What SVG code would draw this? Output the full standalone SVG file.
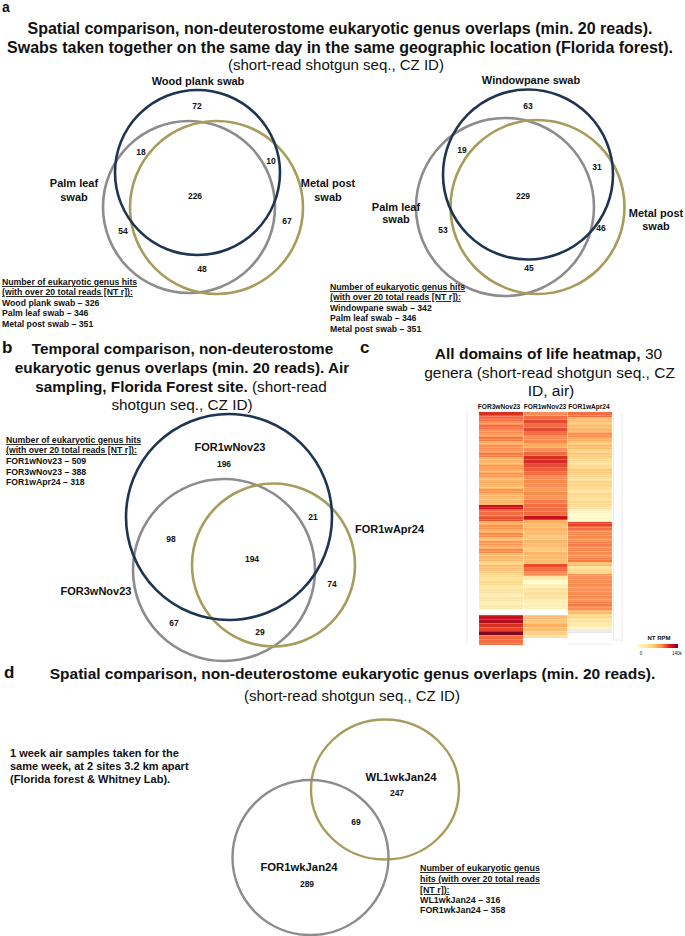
<svg xmlns="http://www.w3.org/2000/svg" width="685" height="936" viewBox="0 0 685 936">
<defs>
<style>
text{font-family:"Liberation Sans",Arial,sans-serif;dominant-baseline:central;fill:#111}
.b{font-weight:bold}
.m{text-anchor:middle}
.u{text-decoration:underline}
.t{font-size:16px}
.s{font-size:15px;font-weight:normal}
.lab{font-size:11px;font-weight:bold}
.num{font-size:8.5px;font-weight:bold;text-anchor:middle}
.leg{font-size:8.7px;font-weight:bold;dominant-baseline:auto}
.pl{font-size:16px;font-weight:bold}
.nv{fill:none;stroke:#1e3552;stroke-width:2.6}
.gy{fill:none;stroke:#8c8c8c;stroke-width:2.6}
.ol{fill:none;stroke:#a69c5c;stroke-width:2.6}
.hm rect{width:44px}
</style>
<linearGradient id="rpm" x1="0" x2="1" y1="0" y2="0">
<stop offset="0" stop-color="#ffffcc"/>
<stop offset="0.35" stop-color="#fed976"/>
<stop offset="0.6" stop-color="#fd8d3c"/>
<stop offset="0.8" stop-color="#e31a1c"/>
<stop offset="1" stop-color="#800026"/>
</linearGradient>
<pattern id="rows" x="0" y="412" width="10" height="4" patternUnits="userSpaceOnUse">
<rect x="0" y="3.4" width="10" height="0.6" fill="#ffffff" fill-opacity="0.35"/>
</pattern>
</defs>
<rect width="685" height="936" fill="#ffffff"/>

<!-- Panel a -->
<g id="panel-a-title">
<text class="pl" x="2" y="7" style="font-size:14px">a</text>
<text class="b t m" x="340" y="28">Spatial comparison, non-deuterostome eukaryotic genus overlaps (min. 20 reads).</text>
<text class="b t m" x="340" y="47">Swabs taken together on the same day in the same geographic location (Florida forest).</text>
<text class="s m" x="336" y="64">(short-read shotgun seq., CZ ID)</text>
</g>

<g id="venn-a-left">
<circle id="a1-palm" class="gy" cx="189" cy="207" r="86"/>
<circle id="a1-metal" class="ol" cx="216.5" cy="207.5" r="86.5"/>
<circle id="a1-wood" class="nv" cx="197.5" cy="172.5" r="82.5"/>
<text class="lab m" x="198" y="81">Wood plank swab</text>
<text class="lab m" x="74" y="183">Palm leaf</text>
<text class="lab m" x="74" y="197">swab</text>
<text class="lab m" x="328" y="183">Metal post</text>
<text class="lab m" x="328" y="197">swab</text>
<text class="num" x="197" y="106">72</text>
<text class="num" x="141" y="152">18</text>
<text class="num" x="271" y="161">10</text>
<text class="num" x="195" y="196">226</text>
<text class="num" x="123" y="231">54</text>
<text class="num" x="287" y="221">67</text>
<text class="num" x="202" y="269">48</text>
</g>
<g id="legend-a-left">
<text class="leg u" x="2" y="285">Number of eukaryotic genus hits</text>
<text class="leg u" x="2" y="295">(with over 20 total reads [NT r]):</text>
<text class="leg" x="2" y="306">Wood plank swab – 326</text>
<text class="leg" x="2" y="316">Palm leaf swab – 346</text>
<text class="leg" x="2" y="327">Metal post swab – 351</text>
</g>

<g id="venn-a-right">
<circle id="a2-palm" class="gy" cx="505" cy="207" r="89"/>
<circle id="a2-metal" class="ol" cx="537.5" cy="207" r="87"/>
<circle id="a2-window" class="nv" cx="528" cy="174.5" r="85"/>
<text class="lab m" x="531" y="80">Windowpane swab</text>
<text class="lab m" x="396" y="207">Palm leaf</text>
<text class="lab m" x="396" y="219">swab</text>
<text class="lab m" x="656" y="213">Metal post</text>
<text class="lab m" x="656" y="226">swab</text>
<text class="num" x="528" y="106">63</text>
<text class="num" x="462" y="150">19</text>
<text class="num" x="597" y="167">31</text>
<text class="num" x="523" y="196">229</text>
<text class="num" x="443" y="230">53</text>
<text class="num" x="601" y="228">46</text>
<text class="num" x="529" y="268">45</text>
</g>
<g id="legend-a-right">
<text class="leg u" x="330" y="290">Number of eukaryotic genus hits</text>
<text class="leg u" x="330" y="300">(with over 20 total reads [NT r]):</text>
<text class="leg" x="330" y="311">Windowpane swab – 342</text>
<text class="leg" x="330" y="321">Palm leaf swab – 346</text>
<text class="leg" x="330" y="332">Metal post swab – 351</text>
</g>

<!-- Panel b -->
<g id="panel-b-title">
<text class="pl" x="2" y="347" style="font-size:17px">b</text>
<text class="b m" style="font-size:15.3px" x="182.5" y="348">Temporal comparison, non-deuterostome</text>
<text class="b m" style="font-size:15.3px" x="182" y="367">eukaryotic genus overlaps (min. 20 reads). Air</text>
<text class="b m" style="font-size:15.3px" x="181" y="386">sampling, Florida Forest site.<tspan font-weight="normal"> (short-read</tspan></text>
<text class="m" style="font-size:15.3px" x="182" y="404">shotgun seq., CZ ID)</text>
</g>
<g id="legend-b">
<text class="leg u" x="6" y="443">Number of eukaryotic genus hits</text>
<text class="leg u" x="6" y="453">(with over 20 total reads [NT r]):</text>
<text class="leg" x="6" y="464">FOR1wNov23 – 509</text>
<text class="leg" x="6" y="475">FOR3wNov23 – 388</text>
<text class="leg" x="6" y="485">FOR1wApr24 – 318</text>
</g>
<g id="venn-b">
<circle id="b-for3" class="gy" cx="224" cy="570" r="91"/>
<circle id="b-apr" class="ol" cx="273.5" cy="565" r="81.5"/>
<circle id="b-for1" class="nv" cx="229" cy="517" r="103"/>
<text class="lab m" x="230" y="447">FOR1wNov23</text>
<text class="lab m" x="96" y="591">FOR3wNov23</text>
<text class="lab" x="355" y="529">FOR1wApr24</text>
<text class="num" x="224" y="464">196</text>
<text class="num" x="313" y="517">21</text>
<text class="num" x="171" y="539">98</text>
<text class="num" x="252" y="559">194</text>
<text class="num" x="332" y="584">74</text>
<text class="num" x="174" y="623">67</text>
<text class="num" x="260" y="632">29</text>
</g>

<!-- Panel c -->
<g id="panel-c-title">
<text class="pl" x="360" y="347" style="font-size:17px">c</text>
<text class="b m" style="font-size:15.5px" x="548.5" y="353">All domains of life heatmap,<tspan font-weight="normal"> 30</tspan></text>
<text class="m" style="font-size:15.5px" x="549.5" y="372">genera (short-read shotgun seq., CZ</text>
<text class="m" style="font-size:15.5px" x="551" y="390">ID, air)</text>
<text class="b m" style="font-size:6.6px" x="499" y="406">FOR3wNov23</text>
<text class="b m" style="font-size:6.6px" x="545" y="406">FOR1wNov23</text>
<text class="b m" style="font-size:6.6px" x="589" y="406">FOR1wApr24</text>
</g>
<g id="heatmap-frame" fill="none" stroke="#e4e4e4" stroke-width="0.8">
<path d="M467 412V643M613.5 412V640M622 414V642M613.5 640H622M568 644H612"/>
</g>
<g id="heatmap-col1" class="hm" transform="translate(479 0)">
<rect y="412" height="4.5" fill="#d7301f"/>
<rect y="416.5" height="4.5" fill="#f46d43"/>
<rect y="421" height="4" fill="#fc8d59"/>
<rect y="425" height="4" fill="#f46d43"/>
<rect y="429" height="4" fill="#fc8d59"/>
<rect y="433" height="4" fill="#fd9a55"/>
<rect y="437" height="4" fill="#f47a45"/>
<rect y="441" height="4" fill="#fdae61"/>
<rect y="445" height="4" fill="#fc8d59"/>
<rect y="449" height="4" fill="#fd9a55"/>
<rect y="453" height="4" fill="#f67b46"/>
<rect y="457" height="8" fill="#fdb56a"/>
<rect y="465" height="4" fill="#fd9a55"/>
<rect y="469" height="4" fill="#fdae61"/>
<rect y="473" height="4" fill="#fc955a"/>
<rect y="477" height="4" fill="#fdb96c"/>
<rect y="481" height="4" fill="#fdae61"/>
<rect y="485" height="4" fill="#fdbd70"/>
<rect y="489" height="4" fill="#fc9250"/>
<rect y="493" height="4" fill="#fdb56a"/>
<rect y="497" height="4" fill="#fdbd70"/>
<rect y="501" height="4" fill="#fdb56a"/>
<rect y="505" height="4" fill="#c8101e"/>
<rect y="509" height="4" fill="#f26a3e"/>
<rect y="513" height="4" fill="#f46d43"/>
<rect y="517" height="4" fill="#e8502f"/>
<rect y="521" height="4" fill="#fdae61"/>
<rect y="525" height="4" fill="#fc9250"/>
<rect y="529" height="4" fill="#fdae61"/>
<rect y="533" height="4" fill="#f88b4b"/>
<rect y="537" height="4" fill="#fdbd70"/>
<rect y="541" height="4" fill="#fc955a"/>
<rect y="545" height="4" fill="#fdae61"/>
<rect y="549" height="4" fill="#f88b4b"/>
<rect y="553" height="4" fill="#fdbd70"/>
<rect y="557" height="4" fill="#fdb56a"/>
<rect y="561" height="4" fill="#fed48a"/>
<rect y="565" height="4" fill="#fdbd70"/>
<rect y="569" height="4" fill="#fec880"/>
<rect y="573" height="4" fill="#fed98c"/>
<rect y="577" height="4" fill="#fde2a0"/>
<rect y="581" height="4" fill="#fed98c"/>
<rect y="585" height="4" fill="#ffe8a8"/>
<rect y="589" height="4" fill="#fee0a0"/>
<rect y="593" height="4" fill="#ffeeb8"/>
<rect y="597" height="4" fill="#fee4a4"/>
<rect y="601" height="4" fill="#ffeeb8"/>
<rect y="605" height="4" fill="#fee8aa"/>
<rect y="615" height="4" fill="#c8101e"/>
<rect y="619" height="4" fill="#b30f1f"/>
<rect y="623" height="4" fill="#d7301f"/>
<rect y="627" height="4" fill="#e8402a"/>
<rect y="631" height="4" fill="#7f0a1c"/>
<rect y="635" height="5" fill="#f26a3e"/>
<rect y="640" height="5" fill="#f46d43"/>
</g>
<g id="heatmap-col2" class="hm" transform="translate(523.5 0)">
<rect y="412" height="4" fill="#fc8d59"/>
<rect y="416" height="4" fill="#f46d43"/>
<rect y="420" height="4" fill="#e34a33"/>
<rect y="424" height="4" fill="#f26a3e"/>
<rect y="428" height="4" fill="#e34a33"/>
<rect y="432" height="4" fill="#f46d43"/>
<rect y="436" height="4" fill="#fc8d59"/>
<rect y="440" height="4" fill="#f88b4b"/>
<rect y="444" height="4" fill="#fdae61"/>
<rect y="448" height="4" fill="#fc8d59"/>
<rect y="452" height="4" fill="#f26a3e"/>
<rect y="456" height="4" fill="#d7301f"/>
<rect y="460" height="4" fill="#d42c24"/>
<rect y="464" height="4" fill="#e34a33"/>
<rect y="468" height="4" fill="#ef5a38"/>
<rect y="472" height="4" fill="#f46d43"/>
<rect y="476" height="4" fill="#fc8d59"/>
<rect y="480" height="4" fill="#f88b4b"/>
<rect y="484" height="4" fill="#fc8d59"/>
<rect y="488" height="4" fill="#fd9a55"/>
<rect y="492" height="4" fill="#f88b4b"/>
<rect y="496" height="4" fill="#fc955a"/>
<rect y="500" height="4" fill="#f67b46"/>
<rect y="504" height="8" fill="#f46d43"/>
<rect y="512" height="4" fill="#f26a3e"/>
<rect y="516" height="4" fill="#c8101e"/>
<rect y="520" height="4" fill="#fdae61"/>
<rect y="524" height="4" fill="#fdbd70"/>
<rect y="528" height="4" fill="#fdb56a"/>
<rect y="532" height="4" fill="#fdbd70"/>
<rect y="536" height="4" fill="#fec880"/>
<rect y="540" height="4" fill="#fdb56a"/>
<rect y="544" height="4" fill="#fdbd70"/>
<rect y="548" height="4" fill="#fec880"/>
<rect y="552" height="4" fill="#fdb56a"/>
<rect y="556" height="4" fill="#fdbd70"/>
<rect y="560" height="4" fill="#fdbd70"/>
<rect y="564" height="4" fill="#ec4a2c"/>
<rect y="568" height="4" fill="#f46d43"/>
<rect y="572" height="4" fill="#fc8d59"/>
<rect y="576" height="4" fill="#ffe8a8"/>
<rect y="580" height="4" fill="#fffcd0"/>
<rect y="584" height="4" fill="#fef0b8"/>
<rect y="588" height="4" fill="#fee4a4"/>
<rect y="592" height="4" fill="#fde0a0"/>
<rect y="596" height="4" fill="#fee4a4"/>
<rect y="600" height="9" fill="#ffeeb8"/>
<rect y="615" height="4" fill="#fdbd70"/>
<rect y="619" height="4" fill="#fec880"/>
<rect y="623" height="4" fill="#fdae61"/>
<rect y="627" height="4" fill="#fdbd70"/>
<rect y="631" height="4" fill="#fed08a"/>
<rect y="635" height="3" fill="#fde0a0"/>
</g>
<g id="heatmap-col3" class="hm" transform="translate(568 0)">
<rect y="412" height="5" fill="#f46d43"/>
<rect y="417" height="4" fill="#fdbd70"/>
<rect y="421" height="4" fill="#fec880"/>
<rect y="425" height="4" fill="#fdbd70"/>
<rect y="429" height="4" fill="#fdb56a"/>
<rect y="433" height="4" fill="#fc8d59"/>
<rect y="437" height="4" fill="#fdae61"/>
<rect y="441" height="4" fill="#fec880"/>
<rect y="445" height="4" fill="#fdbd70"/>
<rect y="449" height="4" fill="#fed48a"/>
<rect y="453" height="4" fill="#fec880"/>
<rect y="457" height="4" fill="#fed98c"/>
<rect y="461" height="4" fill="#fee0a0"/>
<rect y="465" height="4" fill="#fed98c"/>
<rect y="469" height="4" fill="#fec880"/>
<rect y="473" height="4" fill="#fed48a"/>
<rect y="477" height="4" fill="#fee0a0"/>
<rect y="481" height="4" fill="#fed48a"/>
<rect y="485" height="4" fill="#fed98c"/>
<rect y="489" height="4" fill="#fee4a4"/>
<rect y="493" height="4" fill="#fed98c"/>
<rect y="497" height="4" fill="#fee0a0"/>
<rect y="501" height="4" fill="#fed98c"/>
<rect y="505" height="4" fill="#fee0a0"/>
<rect y="509" height="4" fill="#fff0c0"/>
<rect y="513" height="5" fill="#fffad0"/>
<rect y="518" height="4" fill="#fff6c8"/>
<rect y="522" height="4" fill="#e8402a"/>
<rect y="526" height="4" fill="#f46d43"/>
<rect y="530" height="4" fill="#fc8d59"/>
<rect y="534" height="4" fill="#f88b4b"/>
<rect y="538" height="4" fill="#fc955a"/>
<rect y="542" height="4" fill="#f67b46"/>
<rect y="546" height="4" fill="#fc8d59"/>
<rect y="550" height="4" fill="#f88b4b"/>
<rect y="554" height="4" fill="#fc955a"/>
<rect y="558" height="4" fill="#f67b46"/>
<rect y="562" height="4" fill="#fdbd70"/>
<rect y="566" height="4" fill="#fee0a0"/>
<rect y="570" height="4" fill="#fed98c"/>
<rect y="574" height="4" fill="#fc955a"/>
<rect y="578" height="4" fill="#fc8d59"/>
<rect y="582" height="4" fill="#f88b4b"/>
<rect y="586" height="4" fill="#fc955a"/>
<rect y="590" height="4" fill="#fc8d59"/>
<rect y="594" height="4" fill="#f88b4b"/>
<rect y="598" height="4" fill="#fc955a"/>
<rect y="602" height="4" fill="#f67b46"/>
<rect y="606" height="4" fill="#fc8d59"/>
<rect y="610" height="4" fill="#fdbd70"/>
<rect y="614" height="4" fill="#fed98c"/>
<rect y="618" height="4" fill="#fee4a4"/>
<rect y="622" height="4" fill="#ffe8a8"/>
<rect y="626" height="4" fill="#fff0c0"/>
<rect y="630" height="3" fill="#e8e8e8"/>
</g>
<rect id="heatmap-rowlines" x="479" y="412" width="133" height="233" fill="url(#rows)"/>
<g id="heatmap-legend">
<text class="b m" style="font-size:6px" x="659" y="638">NT RPM</text>
<rect x="637" y="644" width="41" height="4" fill="url(#rpm)"/>
<text class="m" style="font-size:4.5px" x="641" y="653">0</text>
<text class="m" style="font-size:4.5px" x="677" y="653">140k</text>
</g>

<!-- Panel d -->
<g id="panel-d-title">
<text class="pl" x="4" y="672" style="font-size:17px">d</text>
<text class="b m" style="font-size:15.5px" x="352.5" y="673">Spatial comparison, non-deuterostome eukaryotic genus overlaps (min. 20 reads).</text>
<text class="s m" x="352" y="695">(short-read shotgun seq., CZ ID)</text>
</g>
<g id="note-d">
<text class="b" style="font-size:11px" x="10" y="753">1 week air samples taken for the</text>
<text class="b" style="font-size:11px" x="10" y="766">same week, at 2 sites 3.2 km apart</text>
<text class="b" style="font-size:11px" x="10" y="779">(Florida forest &amp; Whitney Lab).</text>
</g>
<g id="venn-d">
<ellipse id="d-wl" cx="385" cy="789.5" rx="74" ry="70" fill="none" stroke="#a69c5c" stroke-width="2.4"/>
<ellipse id="d-for" cx="310.5" cy="857.5" rx="78" ry="77.5" fill="none" stroke="#8c8c8c" stroke-width="2.4"/>
<text class="lab m" style="font-size:11.3px" x="401" y="777">WL1wkJan24</text>
<text class="num" x="397" y="793">247</text>
<text class="num" x="356" y="822">69</text>
<text class="lab m" style="font-size:11.3px" x="299" y="867">FOR1wkJan24</text>
<text class="num" x="307" y="884">289</text>
</g>
<g id="legend-d">
<text class="leg u" style="font-size:8.9px" x="420" y="871">Number of eukaryotic genus</text>
<text class="leg u" style="font-size:8.9px" x="420" y="882">hits (with over 20 total reads</text>
<text class="leg u" style="font-size:8.9px" x="420" y="893">[NT r]):</text>
<text class="leg" style="font-size:8.9px" x="420" y="903">WL1wkJan24 – 316</text>
<text class="leg" style="font-size:8.9px" x="420" y="913">FOR1wkJan24 – 358</text>
</g>
</svg>
